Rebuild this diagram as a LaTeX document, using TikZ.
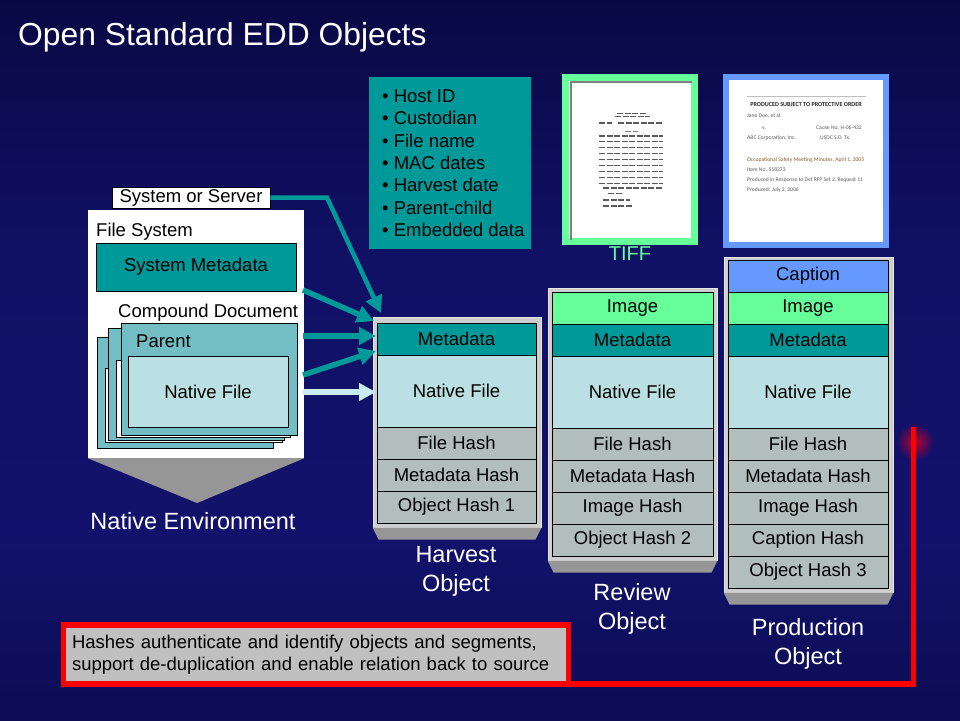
\documentclass[tikz,border=0pt]{standalone}
\usepackage{fontspec}
\setmainfont{Liberation Sans}
\newfontfamily\docfont{Carlito}
\usetikzlibrary{arrows.meta,fadings}
\definecolor{tealc}{RGB}{0,153,153}
\definecolor{nativec}{RGB}{187,224,227}
\definecolor{hashc}{RGB}{178,190,190}
\definecolor{imagec}{RGB}{102,255,153}
\definecolor{capc}{RGB}{102,153,255}
\definecolor{pagec}{RGB}{115,190,196}
\definecolor{platec}{RGB}{206,206,206}
\definecolor{plateedge}{RGB}{230,230,230}
\definecolor{bevelc}{RGB}{150,150,150}
\definecolor{lightarrow}{RGB}{200,236,240}
\definecolor{notec}{RGB}{192,192,192}
\definecolor{doctext}{RGB}{90,90,90}
\definecolor{glowc}{RGB}{210,0,40}
\definecolor{bgzero}{RGB}{2,2,38}
\definecolor{bgone}{RGB}{18,18,108}
\definecolor{bgtwo}{RGB}{16,16,100}
\definecolor{bgthree}{RGB}{4,4,50}
\definecolor{bgfour}{RGB}{0,0,10}
\pgfdeclareverticalshading{bgshade}{100bp}{color(0bp)=(bgzero); color(38bp)=(bgone); color(58bp)=(bgtwo); color(85bp)=(bgthree); color(100bp)=(bgfour)}
\tikzfading[name=glowfade, inner color=transparent!15, outer color=transparent!100]
\newcommand\lbl{\fontsize{18.5}{21}\selectfont}
\newcommand\caplbl{\fontsize{23.5}{29}\selectfont}
\newcommand\docsz{\docfont\fontsize{5.6}{6.5}\selectfont}
\tikzset{
  cell/.style={draw=black, line width=0.8pt, inner sep=0pt, minimum height=32pt, font=\lbl, text=black},
  hcell/.style={cell, minimum width=159pt},
  rcell/.style={cell, minimum width=161pt},
  pcell/.style={cell, minimum width=160pt},
  plate/.style={fill=platec, draw=plateedge, line width=1pt, inner sep=0pt},
  conn/.style={line width=5.5pt, draw=tealc, -{Triangle[length=17pt,width=17pt]}},
  lightconn/.style={conn, draw=lightarrow},
  plain/.style={inner sep=0pt, font=\lbl, text=black},
  whitelbl/.style={inner sep=0pt, font=\caplbl, text=white, align=center},
  pagebox/.style={fill=pagec, draw=black, line width=0.7pt},
  sheet/.style={fill=white, draw=black, line width=0.5pt},
  docline/.style={line width=1.1pt, draw=doctext, dash pattern=on 6pt off 1.5pt},
  doctxt/.style={inner sep=0pt, font=\docsz, text=doctext, anchor=base west},
  redline/.style={draw=red, line width=5.5pt},
}
\begin{document}
\begin{tikzpicture}[x=1pt,y=-1pt]
\shade[shading=bgshade] (0,0) rectangle (960,720);
\useasboundingbox (0,0) rectangle (960,720);

% title
\node[anchor=base west, inner sep=0pt, text=white, font=\fontsize{31.8}{36}\selectfont] (title) at (18,45) {Open Standard EDD Objects};

% native environment
\node[fill=white, minimum width=216pt, minimum height=248pt, inner sep=0pt] (envpanel) at (196,334) {};
\fill[bevelc] (envpanel.south west) -- (envpanel.south east) -- (197,503) -- cycle;
\node[fill=white, draw=black, line width=0.5pt, minimum width=158pt, minimum height=21pt, inner sep=0pt, font=\lbl] (sys) at (191,197.5) {System or Server};
\node[plain, anchor=base west] (fslbl) at (96,236) {File System};
\node[draw=black, fill=tealc, line width=0.8pt, minimum width=200pt, minimum height=48pt, inner sep=0pt, font=\lbl] (sysmeta) at (196,267) {System Metadata};
\node[plain, anchor=base west] (cdlbl) at (118,317) {Compound Document};
\draw[pagebox] (97,337) rectangle (273,448);
\draw[sheet] (105,368) rectangle (282,442);
\draw[pagebox] (108,328) rectangle (284,440);
\draw[sheet] (116,360) rectangle (290,437);
\draw[pagebox] (121,323) rectangle (297,435);
\node[plain, anchor=base west] (parentlbl) at (136,347) {Parent};
\node[draw=black, fill=nativec, line width=0.7pt, minimum width=160pt, minimum height=71pt, inner sep=0pt, font=\lbl] (envnative) at (208,391.5) {Native File};
\node[whitelbl] (envlbl) at (193,521) {Native Environment};

% plates
\node[plate, minimum width=168pt, minimum height=210pt] (hplate) at (457,422) {};
\fill[bevelc] (hplate.south west) -- (hplate.south east) -- ([xshift=-6pt,yshift=-12pt]hplate.south east) -- ([xshift=6pt,yshift=-12pt]hplate.south west) -- cycle;
\node[plate, minimum width=169pt, minimum height=272pt] (rplate) at (632.5,424) {};
\fill[bevelc] (rplate.south west) -- (rplate.south east) -- ([xshift=-6pt,yshift=-12pt]rplate.south east) -- ([xshift=6pt,yshift=-12pt]rplate.south west) -- cycle;
\node[plate, minimum width=169pt, minimum height=335pt] (pplate) at (808.5,424.5) {};
\fill[bevelc] (pplate.south west) -- (pplate.south east) -- ([xshift=-6pt,yshift=-12pt]pplate.south east) -- ([xshift=6pt,yshift=-12pt]pplate.south west) -- cycle;

% harvest object
\node[hcell, fill=tealc] (hmeta) at (456.5,339) {Metadata};
\node[hcell, fill=nativec, minimum height=72pt] (hnative) at (456.5,391) {Native File};
\node[hcell, fill=hashc] (hfh) at (456.5,443) {File Hash};
\node[hcell, fill=hashc] (hmh) at (456.5,475) {Metadata Hash};
\node[hcell, fill=hashc] (hoh) at (456.5,507) {Object Hash 1};
\node[whitelbl] (hlbl) at (456,571.5) {Harvest\\Object};

% review object
\node[rcell, fill=imagec] (rimg) at (632.5,308) {Image};
\node[rcell, fill=tealc] (rmeta) at (632.5,340) {Metadata};
\node[rcell, fill=nativec, minimum height=72pt] (rnative) at (632.5,392) {Native File};
\node[rcell, fill=hashc] (rfh) at (632.5,444) {File Hash};
\node[rcell, fill=hashc] (rmh) at (632.5,476) {Metadata Hash};
\node[rcell, fill=hashc] (rih) at (632.5,508) {Image Hash};
\node[rcell, fill=hashc] (roh) at (632.5,540) {Object Hash 2};
\node[whitelbl] (rlbl) at (632,608.5) {Review\\Object};

% production object
\node[pcell, fill=capc] (pcap) at (808,276) {Caption};
\node[pcell, fill=imagec] (pimg) at (808,308) {Image};
\node[pcell, fill=tealc] (pmeta) at (808,340) {Metadata};
\node[pcell, fill=nativec, minimum height=72pt] (pnative) at (808,392) {Native File};
\node[pcell, fill=hashc] (pfh) at (808,444) {File Hash};
\node[pcell, fill=hashc] (pmh) at (808,476) {Metadata Hash};
\node[pcell, fill=hashc] (pih) at (808,508) {Image Hash};
\node[pcell, fill=hashc] (pch) at (808,540) {Caption Hash};
\node[pcell, fill=hashc] (poh) at (808,572) {Object Hash 3};
\node[whitelbl] (plbl) at (808,643.5) {Production\\Object};

% arrows
\coordinate (bend1) at (327,197.5);
\coordinate (t1) at (381,313);
\coordinate (s2) at (303,290);
\coordinate (t2) at (374,321);
\coordinate (s3) at (303,336);
\coordinate (t3) at (376,336);
\coordinate (s4) at (303,375);
\coordinate (t4) at (376,351);
\coordinate (s5) at (303,392);
\coordinate (t5) at (376,392);
\draw[conn, line width=4.5pt] (sys.east) -- (bend1) -- (t1);
\draw[conn] (s2) -- (t2);
\draw[conn] (s3) -- (t3);
\draw[conn] (s4) -- (t4);
\draw[lightconn] (s5) -- (t5);

% metadata bullet box
\node[fill=tealc, minimum width=162pt, minimum height=172pt, inner sep=0pt] (mdbox) at (450,163) {};
\node[plain, anchor=base west] (b1) at (382,102.3) {\textbullet\ Host ID};
\node[plain, anchor=base west] (b2) at (382,124.7) {\textbullet\ Custodian};
\node[plain, anchor=base west] (b3) at (382,147.1) {\textbullet\ File name};
\node[plain, anchor=base west] (b4) at (382,169.5) {\textbullet\ MAC dates};
\node[plain, anchor=base west] (b5) at (382,191.9) {\textbullet\ Harvest date};
\node[plain, anchor=base west] (b6) at (382,214.3) {\textbullet\ Parent-child};
\node[plain, anchor=base west] (b7) at (382,236.7) {\textbullet\ Embedded data};

% TIFF image
\node[draw=imagec, fill=white, line width=7pt, minimum width=129pt, minimum height=164pt, inner sep=0pt] (tiff) at (630,159.5) {};
\draw[gray, line width=2pt] (571,240) -- (571,82) -- (692,82);
\draw[docline] (617,113.3) -- (647,113.3);
\draw[docline] (615,116.8) -- (650,116.8);
\draw[docline] (599,123) -- (612,123);
\draw[docline] (618,123) -- (663,123);
\draw[docline, line width=0.8pt, draw=gray] (625,131) -- (638,131);
\foreach \yy in {136,141.9,147.8,153.7,159.6,165.5,171.4,177.3,183.2}{
  \draw[docline] (599,\yy) -- (663,\yy);
}
\draw[docline] (603,188) -- (663,188);
\draw[docline] (608,193.5) -- (622,193.5);
\draw[docline] (603,200) -- (630,200);
\draw[docline] (603,206) -- (633,206);
\node[inner sep=0pt, font=\fontsize{20}{24}\selectfont, text=imagec] (tifflbl) at (630,254) {TIFF};

% production image
\node[draw=capc, fill=white, line width=6pt, minimum width=160pt, minimum height=168.5pt, inner sep=0pt] (prodimg) at (806,161) {};
\draw[gray!50, line width=0.8pt] (747,96) -- (866,96);
\node[inner sep=0pt, font=\docfont\bfseries\fontsize{6.1}{7}\selectfont, text=black!85, anchor=base] (pd1) at (806,106) {PRODUCED SUBJECT TO PROTECTIVE ORDER};
\node[doctxt] (pd2) at (747,117) {Jane Doe, et al.};
\node[doctxt] (pd3) at (762,129) {v.};
\node[doctxt, anchor=base east] (pd4) at (862,129) {Cause No. H-06-432};
\node[doctxt] (pd5) at (747,139) {ABC Corporation, Inc.};
\node[doctxt] (pd6) at (820,139) {USDC S.D. Tx.};
\node[doctxt, text=brown!70!black] (pd7) at (747,161) {Occupational Safety Meeting Minutes, April 1, 2005};
\node[doctxt] (pd8) at (747,171) {Item No. 558273};
\node[doctxt] (pd9) at (747,181) {Produced in Response to Def RFP Set 2, Request 11};
\node[doctxt] (pd10) at (747,191) {Produced: July 2, 2006};

% note and red line
\fill[glowc, path fading=glowfade] (915,442) circle (19);
\node[draw=red, line width=5.5pt, outer sep=0pt, fill=notec, minimum width=505pt, minimum height=59pt, inner sep=0pt, text width=488pt, align=left, font=\fontsize{18.5}{21.5}\selectfont, text=black] (note) at (316,654.5) {Hashes authenticate and identify objects and segments,\\support de-duplication and enable relation back to source};
\coordinate (redcorner) at (913.5,684);
\coordinate (redtop) at (913.5,427);
\draw[redline, line join=miter] (note.south west) -- (redcorner) -- (redtop);
\end{tikzpicture}
\end{document}
